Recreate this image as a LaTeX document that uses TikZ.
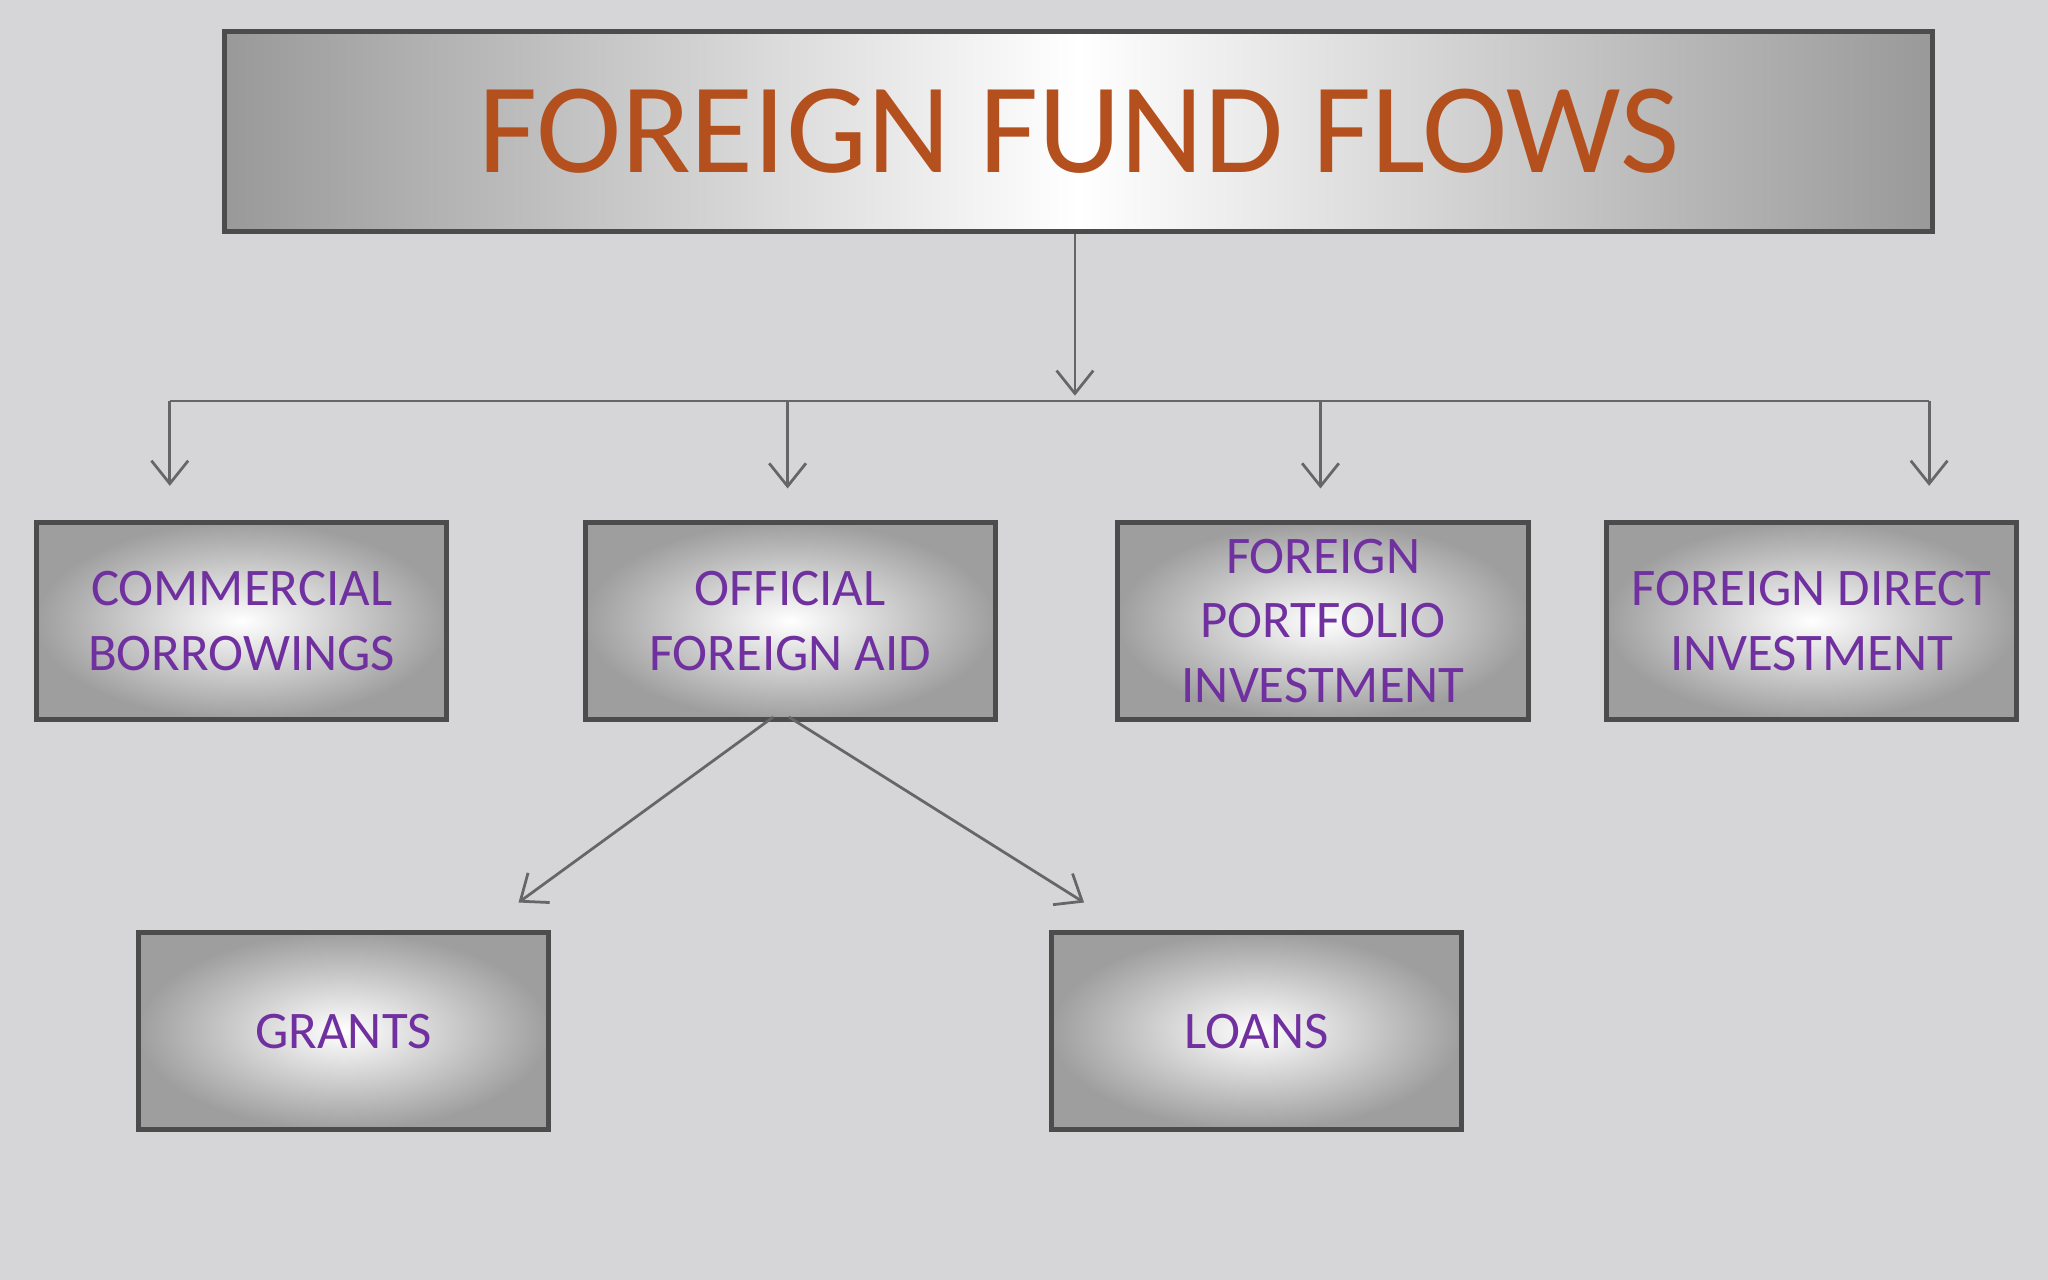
\documentclass[tikz,border=0pt]{standalone}
\usepackage{fontspec}
\setmainfont{Carlito}
\usetikzlibrary{arrows.meta}
\definecolor{bg}{HTML}{D6D6D8}
\definecolor{txt}{HTML}{7030A0}
\definecolor{ttl}{HTML}{B4501E}
\tikzset{
 x=0.01cm,y=-0.01cm,
 box/.style={draw=black!70,line width=1.1pt,inner color=white,outer color=black!38,minimum width=3.14cm,minimum height=1.51cm,align=center,text=txt,font=\fontsize{11.5}{14}\selectfont,anchor=north west,inner sep=0pt},
 conn/.style={draw=black!60,line width=0.6pt},
 arr/.style={conn,-{Straight Barb[length=5pt,width=8pt]}}
}
\begin{document}
\begin{tikzpicture}
\fill[bg] (0,0) rectangle (1568,980);
\useasboundingbox (0,0) rectangle (1568,980);
\node[draw=black!70,line width=1.1pt,left color=black!40,right color=black!40,middle color=white,minimum width=13.07cm,minimum height=1.53cm,anchor=north west,inner sep=0pt,text=ttl,font=\fontsize{28}{32}\selectfont] (t) at (170,22) {FOREIGN FUND FLOWS};
\node[box] (cb) at (26,398) {COMMERCIAL\\BORROWINGS};
\node[box] (ofa) at (446,398) {OFFICIAL\\FOREIGN AID};
\node[box] (fpi) at (854,398) {FOREIGN\\PORTFOLIO\\INVESTMENT};
\node[box] (fdi) at (1228,398) {FOREIGN DIRECT\\INVESTMENT};
\node[box] (gr) at (104,712) {GRANTS};
\node[box] (lo) at (803,712) {LOANS};
\coordinate (j) at (823,303);
\coordinate (l) at (130,307);
\coordinate (r) at (1477,307);
\draw[arr] (t.south -| j) -- (j);
\draw[conn] (l) -- (r);
\draw[arr] (l) -- (130,372);
\draw[arr] (603,307) -- (603,374);
\draw[arr] (1011,307) -- (1011,374);
\draw[arr] (r) -- (1477,372);
\coordinate (g) at (397,691);
\coordinate (lc) at (830,691);
\draw[arr] (592,549) -- (g);
\draw[arr] (604,549) -- (lc);
\end{tikzpicture}
\end{document}
